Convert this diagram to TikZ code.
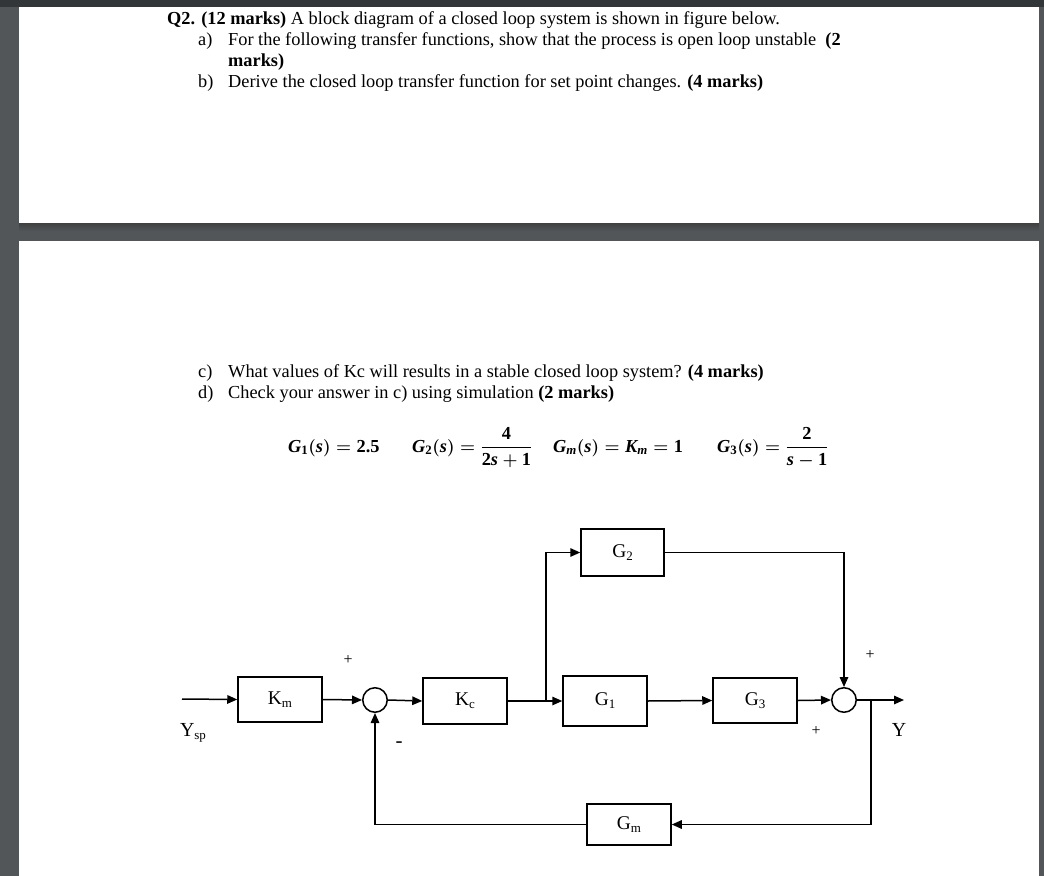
\documentclass[tikz,border=0pt]{standalone}
\usepackage{fontspec}
\usepackage{amsmath}
\setmainfont{Liberation Serif}
\usetikzlibrary{arrows.meta}
\definecolor{viewer}{HTML}{525659}
\definecolor{topbar}{HTML}{323639}
\newcommand\bitx[1]{\text{\bfseries\itshape #1}}
\newcommand\bntx[1]{\text{\bfseries #1}}
\newcommand\lsub[1]{\raisebox{-0.35ex}{\fontsize{13}{13}\selectfont #1}}
\tikzset{
 txt/.style={inner sep=0pt, anchor=base west, font=\fontsize{18.4}{22}\selectfont},
 eq/.style={inner sep=0pt, anchor=base west, font=\fontsize{18.4}{22}\selectfont\boldmath},
 blk/.style={draw, line width=1.5bp, inner sep=0pt, font=\fontsize{19.5}{22}\selectfont},
 sumj/.style={draw, circle, line width=1.5bp, minimum size=24.5bp, inner sep=0pt},
 conn/.style={line width=1.5bp, -{Triangle[length=10bp,width=8.5bp]}},
 sign/.style={inner sep=0pt, font=\fontsize{16}{18}\selectfont},
 lbl/.style={inner sep=0pt, font=\fontsize{20}{22}\selectfont},
}
\begin{document}
\begin{tikzpicture}[x=1bp,y=-1bp]
\useasboundingbox (0,0) rectangle (1044,876);
% viewer background and pages
\fill[viewer] (0,0) rectangle (1044,876);
\fill[topbar] (0,0) rectangle (1044,7);
\shade[top color=black!75, bottom color=viewer] (19,223) rectangle (1039,231);
\fill[white] (19,7) rectangle (1039,223);
\fill[white] (19,241) rectangle (1039,876);

% question text
\node[txt] (q2) at (167,24) {\textbf{Q2. (12 marks)} A block diagram of a closed loop system is shown in figure below.};
\node[txt] (qal) at (198,45) {a)};
\node[txt] (qa) at (228,45) {For the following transfer functions, show that the process is open loop unstable\ \ \textbf{(2}};
\node[txt] (qa2) at (228,66) {\textbf{marks)}};
\node[txt] (qbl) at (198,87) {b)};
\node[txt] (qb) at (228,87) {Derive the closed loop transfer function for set point changes. \textbf{(4 marks)}};
\node[txt] (qcl) at (198,377) {c)};
\node[txt] (qc) at (228,377) {What values of Kc will results in a stable closed loop system? \textbf{(4 marks)}};
\node[txt] (qdl) at (198,398) {d)};
\node[txt] (qd) at (228,398) {Check your answer in c) using simulation \textbf{(2 marks)}};

% transfer functions
\node[eq] (e1) at (288,452) {$\bitx{G}_{\bntx{1}}(\bitx{s}) = \bntx{2.5}$};
\node[eq] (e2) at (412,452) {$\bitx{G}_{\bntx{2}}(\bitx{s}) = \dfrac{\bntx{4}}{\bntx{2}\bitx{s}+\bntx{1}}$};
\node[eq] (e3) at (553,452) {$\bitx{G}_{\bitx{m}}(\bitx{s}) = \bitx{K}_{\bitx{m}} = \bntx{1}$};
\node[eq] (e4) at (717,452) {$\bitx{G}_{\bntx{3}}(\bitx{s}) = \dfrac{\bntx{2}}{\bitx{s}-\bntx{1}}$};

% blocks
\node[blk, minimum width=84bp, minimum height=45bp] (km) at (280,699.5) {K\lsub{m}};
\node[sumj] (s1) at (375,700) {};
\node[blk, minimum width=84bp, minimum height=46bp] (kc) at (465,701) {K\lsub{c}};
\node[blk, minimum width=83bp, minimum height=47bp] (g2) at (622.5,552.5) {G\lsub{2}};
\node[blk, minimum width=84bp, minimum height=50bp] (g1) at (605,701) {G\lsub{1}};
\node[blk, minimum width=84bp, minimum height=45bp] (g3) at (755,700.5) {G\lsub{3}};
\node[sumj] (s2) at (844,700) {};
\node[blk, minimum width=84bp, minimum height=41bp] (gm) at (629,824.5) {G\lsub{m}};

% free ends and branch points
\coordinate (ysp) at (182,699);
\coordinate (br1) at (546,701);
\coordinate (br2) at (871,700);
\coordinate (yout) at (904,700);

% connectors
\draw[conn] (ysp) -- (km.west);
\draw[conn] (km.east) -- (s1.west);
\draw[conn] (s1.east) -- (kc.west);
\draw[conn] (kc.east) -- (g1.west);
\draw[conn] (br1) |- (g2.west);
\draw[conn] (g2.east) -| (s2.north);
\draw[conn] (g1.east) -- (g3.west);
\draw[conn] (g3.east) -- (s2.west);
\draw[conn] (s2.east) -- (yout);
\draw[conn] (br2) |- (gm.east);
\draw[conn] (gm.west) -| (s1.south);

% signs and signal labels
\node[sign] (p1) at (348,660) {+};
\node[sign, font=\fontsize{21}{22}\selectfont] (m1) at (399,745) {-};
\node[sign] (p2) at (870,655) {+};
\node[sign] (p3) at (816,731) {+};
\node[lbl] (ylab) at (899,730) {Y};
\node[lbl] (ysplab) at (193,733) {Y\lsub{sp}};
\end{tikzpicture}
\end{document}
